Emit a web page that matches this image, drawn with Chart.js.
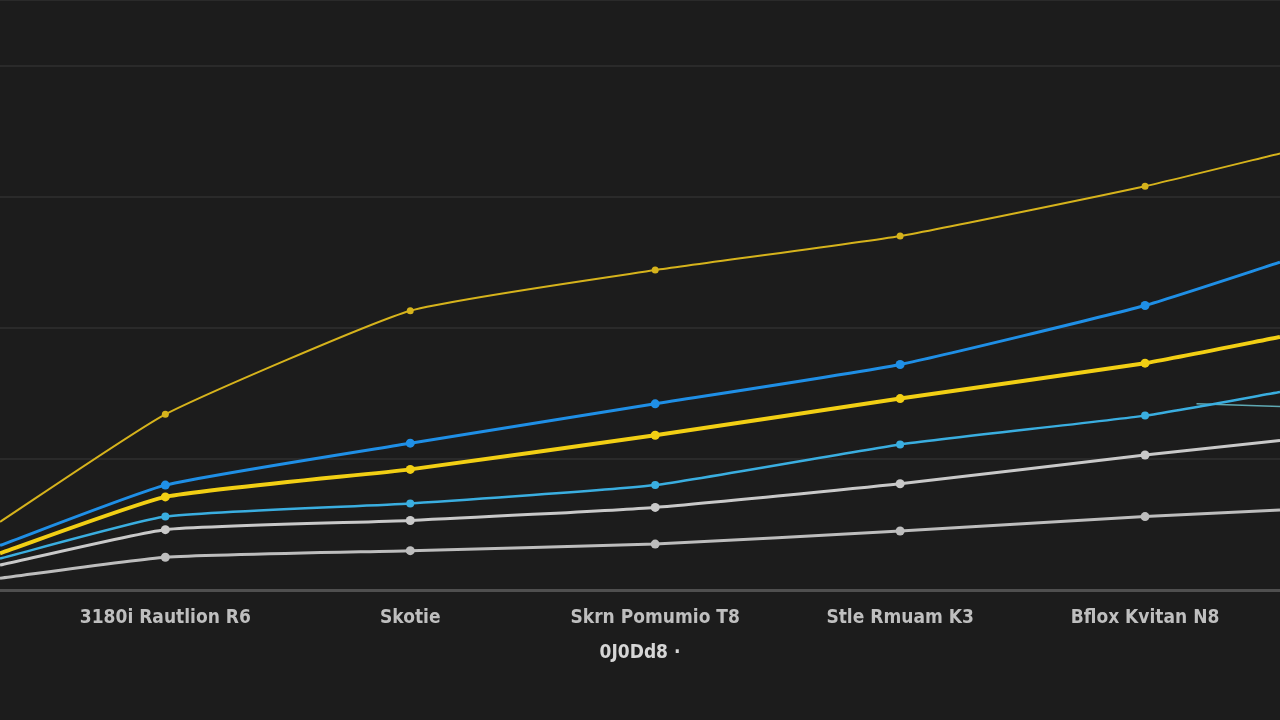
<!DOCTYPE html>
<html>
<head>
<meta charset="utf-8">
<script src="https://cdn.jsdelivr.net/npm/chart.js@4.4.1/dist/chart.umd.min.js"></script>
<style>
    html, body { margin: 0; padding: 0; background: #1c1c1c; }
    #wrap { width: 1280px; height: 720px; }
</style>
</head>
<body>
<div id="wrap"><canvas id="chart"></canvas></div>
<script>
// categories along the x axis (index 0..4); the lines run past both edges
const categories = ['3180i Rautlion R6', 'Skotie', 'Skrn Pomumio T8', 'Stle Rmuam K3', 'Bflox Kvitan N8'];
const axisTitle = '0J0Dd8 ·';

// x positions of the values where the lines leave the plot on the left / right
const leftEdge = -0.675;
const rightEdge = 4.551;
const positions = [leftEdge, 0, 1, 2, 3, 4, rightEdge];

// series values (left edge, five categories, right edge)
const goldThin   = [52, 134, 213, 244, 270, 308, 333];
const blueLine   = [34, 80, 112, 142, 172, 217, 250];
const yellowLine = [28, 71, 92, 118, 146, 173, 193];
const cyanLine   = [24, 56, 66, 80, 111, 133, 151];
const grayUpper  = [19, 46, 53, 63, 81, 103, 114];
const grayLower  = [9, 25, 30, 35, 45, 56, 61];

// the thin teal branch near the right edge
const tealX = [4.21, rightEdge];
const tealY = [142, 140];

function toPoints(xs, ys) {
    return ys.map((y, i) => ({ x: xs[i], y: y }));
}

// hide the markers on the edge points, show them on the categories
function markerSizes(n, r) {
    const sizes = [];
    for (let i = 0; i < n; i++) {
        sizes.push(i === 0 || i === n - 1 ? 0 : r);
    }
    return sizes;
}

function series(label, values, color, width, radius) {
    return {
        label: label,
        data: toPoints(positions, values),
        borderColor: color,
        backgroundColor: color,
        borderWidth: width,
        pointRadius: markerSizes(values.length, radius),
        pointBorderWidth: 0,
        tension: 0.15
    };
}

const labelFont = '"Liberation Sans Narrow", "DejaVu Sans Condensed", sans-serif';

const ctx = document.getElementById('chart');
new Chart(ctx, {
    type: 'line',
    data: {
        datasets: [
            series('Gold', goldThin, '#d6b31c', 2, 3.5),
            series('Blue', blueLine, '#1f8fe6', 3, 4.5),
            series('Yellow', yellowLine, '#f2cf14', 4, 4.5),
            series('Cyan', cyanLine, '#3aaee0', 2.5, 4),
            series('Gray', grayUpper, '#c9c9c9', 3, 4.5),
            series('Gray 2', grayLower, '#bdbdbd', 3, 4.5),
            {
                label: 'Teal',
                data: toPoints(tealX, tealY),
                borderColor: '#5fa9b3',
                borderWidth: 1.5,
                pointRadius: 0,
                tension: 0
            }
        ]
    },
    options: {
        responsive: true,
        maintainAspectRatio: false,
        animation: false,
        layout: { padding: { left: 0, right: 0, top: 0, bottom: 57 } },
        plugins: {
            legend: { display: false },
            tooltip: { enabled: false }
        },
        scales: {
            x: {
                type: 'linear',
                min: leftEdge,
                max: rightEdge,
                afterBuildTicks: function(axis) {
                    axis.ticks = categories.map((c, i) => ({ value: i }));
                },
                grid: { display: false, drawTicks: false },
                border: { color: '#4f4f4f', width: 3 },
                ticks: {
                    autoSkip: false,
                    maxRotation: 0,
                    padding: 19,
                    color: '#bfbfbf',
                    font: { family: labelFont, size: 19, weight: 'bold', lineHeight: 1.0 },
                    callback: function(value) {
                        return categories[value];
                    }
                },
                title: {
                    display: true,
                    text: axisTitle,
                    color: '#d6d6d6',
                    padding: { top: -3, bottom: 0 },
                    font: { family: labelFont, size: 19, weight: 'bold', lineHeight: 1.0 }
                }
            },
            y: {
                min: 0,
                max: 450,
                grid: { color: '#2a2a2a', lineWidth: 2, drawTicks: false },
                border: { display: false },
                ticks: { display: false, stepSize: 100 }
            }
        }
    }
});
</script>
</body>
</html>
